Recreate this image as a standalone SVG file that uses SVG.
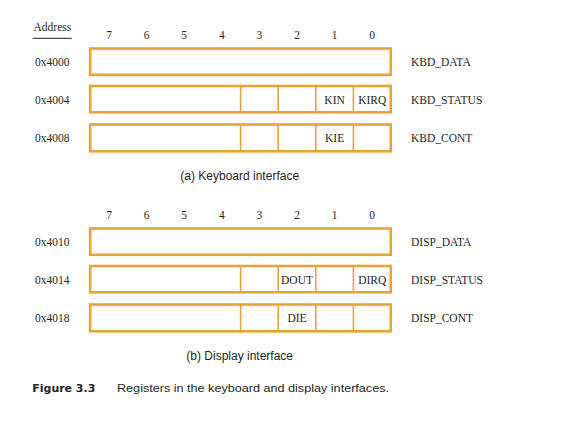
<svg xmlns="http://www.w3.org/2000/svg" width="563" height="421" viewBox="0 0 563 421">
<style>
.t{font-family:"Liberation Serif","Times New Roman",serif;font-size:11.5px;fill:#231f20}
.c{text-anchor:middle}
.cap{font-family:"Liberation Sans",Arial,sans-serif;font-size:12px;fill:#231f20;text-anchor:middle}
.box{fill:#fff;stroke:#e8a23a;stroke-width:2.6}
.div{stroke:#e8a23a;stroke-width:1.6}
</style>
<rect width="563" height="421" fill="#fff"/>
<g id="address-header">
<text class="t" x="33.5" y="31">Address</text>
<line x1="32.7" y1="38.3" x2="71.7" y2="38.3" stroke="#231f20" stroke-width="1"/>
</g>
<g id="keyboard">
<g id="kbd-bits">
<text class="t c" x="109" y="39">7</text>
<text class="t c" x="146.6" y="39">6</text>
<text class="t c" x="184.2" y="39">5</text>
<text class="t c" x="221.8" y="39">4</text>
<text class="t c" x="259.4" y="39">3</text>
<text class="t c" x="297" y="39">2</text>
<text class="t c" x="334.6" y="39">1</text>
<text class="t c" x="372.2" y="39">0</text>
</g>
<g id="kbd-data">
<text class="t" x="35" y="66">0x4000</text>
<rect class="box" x="90.2" y="48.5" width="300.6" height="26.3"/>
<text class="t" x="411" y="66">KBD_DATA</text>
</g>
<g id="kbd-status">
<text class="t" x="35" y="104">0x4004</text>
<rect class="box" x="90.2" y="86" width="300.6" height="26.3"/>
<line class="div" x1="240.6" y1="86" x2="240.6" y2="112.3"/>
<line class="div" x1="278.2" y1="86" x2="278.2" y2="112.3"/>
<line class="div" x1="315.8" y1="86" x2="315.8" y2="112.3"/>
<line class="div" x1="353.4" y1="86" x2="353.4" y2="112.3"/>
<text class="t c" x="334.6" y="104">KIN</text>
<text class="t c" x="372.2" y="104">KIRQ</text>
<text class="t" x="411" y="104">KBD_STATUS</text>
</g>
<g id="kbd-cont">
<text class="t" x="35" y="142">0x4008</text>
<rect class="box" x="90.2" y="124.5" width="300.6" height="26.8"/>
<line class="div" x1="240.6" y1="124.5" x2="240.6" y2="151.3"/>
<line class="div" x1="278.2" y1="124.5" x2="278.2" y2="151.3"/>
<line class="div" x1="315.8" y1="124.5" x2="315.8" y2="151.3"/>
<line class="div" x1="353.4" y1="124.5" x2="353.4" y2="151.3"/>
<text class="t c" x="334.6" y="142">KIE</text>
<text class="t" x="411" y="142">KBD_CONT</text>
</g>
<text class="cap" x="239.7" y="180">(a) Keyboard interface</text>
</g>
<g id="display" transform="translate(0,180)">
<g id="disp-bits">
<text class="t c" x="109" y="39">7</text>
<text class="t c" x="146.6" y="39">6</text>
<text class="t c" x="184.2" y="39">5</text>
<text class="t c" x="221.8" y="39">4</text>
<text class="t c" x="259.4" y="39">3</text>
<text class="t c" x="297" y="39">2</text>
<text class="t c" x="334.6" y="39">1</text>
<text class="t c" x="372.2" y="39">0</text>
</g>
<g id="disp-data">
<text class="t" x="35" y="66">0x4010</text>
<rect class="box" x="90.2" y="48.5" width="300.6" height="26.3"/>
<text class="t" x="411" y="66">DISP_DATA</text>
</g>
<g id="disp-status">
<text class="t" x="35" y="104">0x4014</text>
<rect class="box" x="90.2" y="86" width="300.6" height="26.3"/>
<line class="div" x1="240.6" y1="86" x2="240.6" y2="112.3"/>
<line class="div" x1="278.2" y1="86" x2="278.2" y2="112.3"/>
<line class="div" x1="315.8" y1="86" x2="315.8" y2="112.3"/>
<line class="div" x1="353.4" y1="86" x2="353.4" y2="112.3"/>
<text class="t c" x="297" y="104">DOUT</text>
<text class="t c" x="372.2" y="104">DIRQ</text>
<text class="t" x="411" y="104">DISP_STATUS</text>
</g>
<g id="disp-cont">
<text class="t" x="35" y="142">0x4018</text>
<rect class="box" x="90.2" y="124.5" width="300.6" height="26.8"/>
<line class="div" x1="240.6" y1="124.5" x2="240.6" y2="151.3"/>
<line class="div" x1="278.2" y1="124.5" x2="278.2" y2="151.3"/>
<line class="div" x1="315.8" y1="124.5" x2="315.8" y2="151.3"/>
<line class="div" x1="353.4" y1="124.5" x2="353.4" y2="151.3"/>
<text class="t c" x="297" y="142">DIE</text>
<text class="t" x="411" y="142">DISP_CONT</text>
</g>
<text class="cap" x="239.7" y="180">(b) Display interface</text>
</g>
<g id="figure-caption">
<text x="32.3" y="392" font-family="'DejaVu Sans',sans-serif" font-weight="bold" font-size="11px" fill="#231f20" textLength="63" lengthAdjust="spacingAndGlyphs">Figure 3.3</text>
<text x="117" y="392" font-family="'Liberation Sans',Arial,sans-serif" font-size="11px" fill="#231f20" textLength="272" lengthAdjust="spacingAndGlyphs">Registers in the keyboard and display interfaces.</text>
</g>
</svg>
